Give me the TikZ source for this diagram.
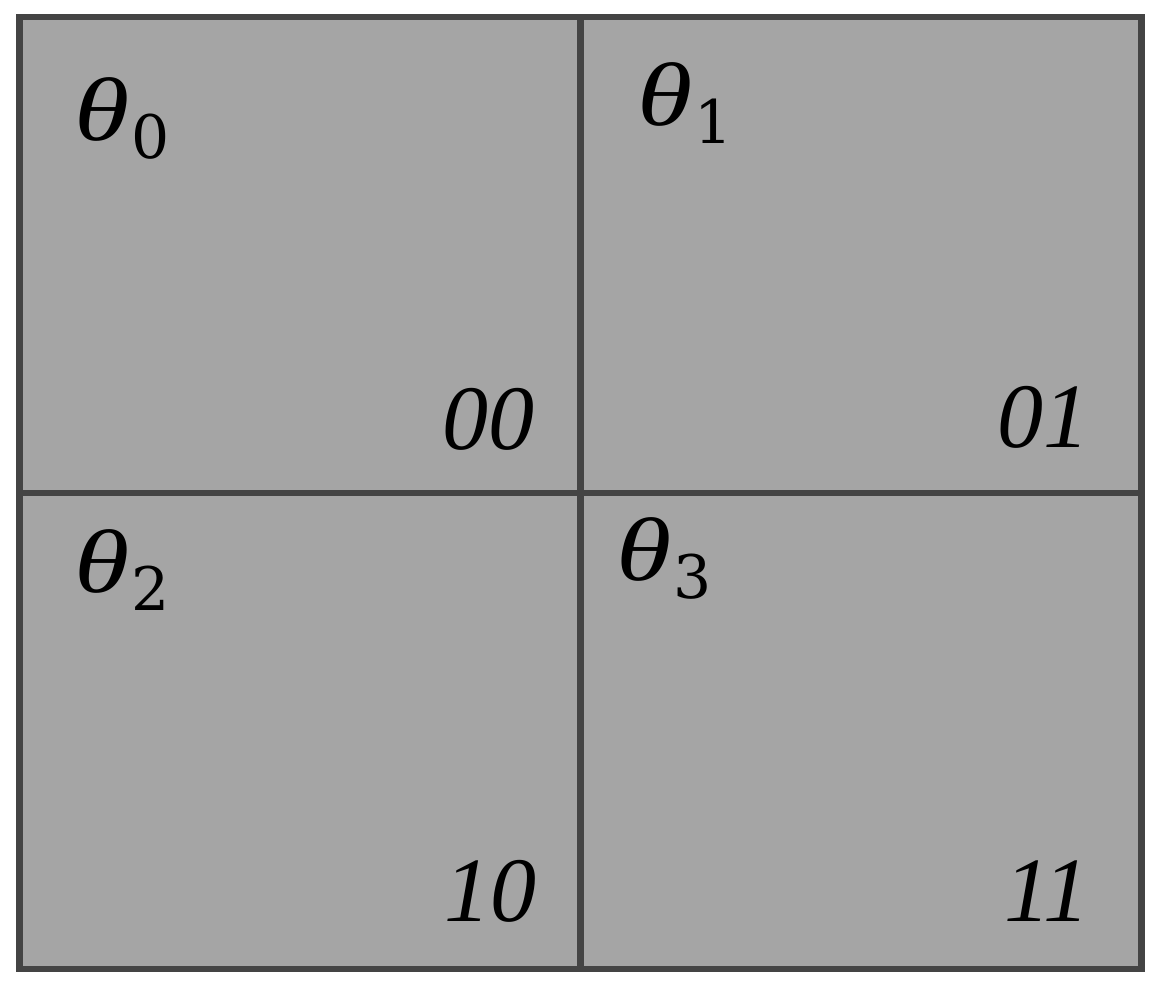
\documentclass[tikz,border=0pt]{standalone}
\usepackage{fontspec}
\setmainfont{Liberation Serif}
\newfontfamily\subfont{DejaVu Serif}
\definecolor{cellfill}{HTML}{A5A5A5}
\definecolor{edgecol}{HTML}{444444}
\newcommand{\thsub}[1]{\scalebox{1.25}[1]{θ}\kern1pt\raisebox{-9pt}{\subfont\fontsize{30}{34}\selectfont\upshape #1}}
\begin{document}
\begin{tikzpicture}[x=0.5pt,y=-0.5pt,
  gridline/.style={draw=edgecol, line width=3.35pt},
  codelbl/.style={inner sep=0pt, font=\fontsize{46}{52}\selectfont\itshape},
  thlbl/.style={inner sep=0pt, font=\fontsize{45}{52}\selectfont\itshape}]
\useasboundingbox (0,0) rectangle (1162,986);
\coordinate (tl) at (19.5,17);
\coordinate (br) at (1141.5,969);
\coordinate (mt) at (580.5,17);
\coordinate (mb) at (580.5,969);
\coordinate (ml) at (19.5,493);
\coordinate (mr) at (1141.5,493);
\fill[cellfill] (tl) rectangle (br);
\draw[gridline] (mt) -- (mb);
\draw[gridline] (ml) -- (mr);
\draw[gridline] (tl) rectangle (br);
\node[thlbl, anchor=base west] (t0) at (74,140) {\thsub{0}};
\node[thlbl, anchor=base west] (t1) at (637,125) {\thsub{1}};
\node[thlbl, anchor=base west] (t2) at (74,592) {\thsub{2}};
\node[thlbl, anchor=base west] (t3) at (616,580) {\thsub{3}};
\node[codelbl, anchor=base east] (c00) at (535,449) {00};
\node[codelbl, anchor=base east] (c01) at (1090,447) {01};
\node[codelbl, anchor=base east] (c10) at (537,921) {10};
\node[codelbl, anchor=base east] (c11) at (1090,921) {11};
\end{tikzpicture}
\end{document}
